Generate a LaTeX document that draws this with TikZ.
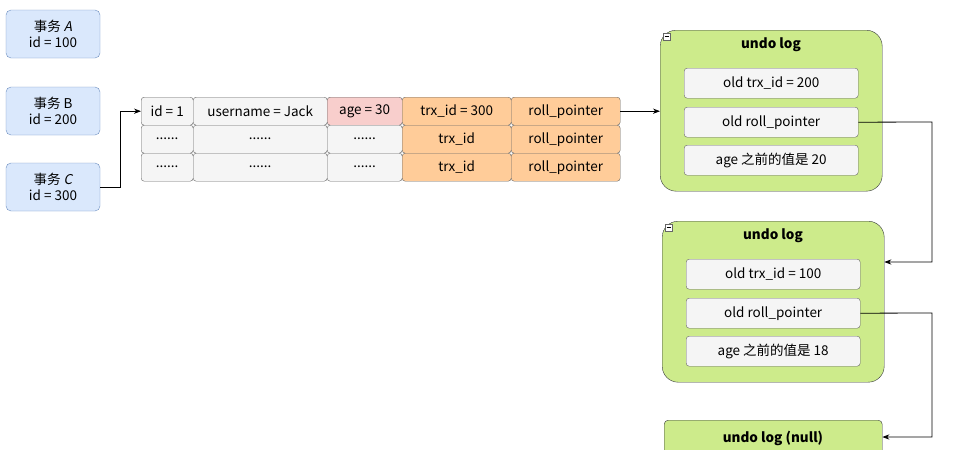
\documentclass[tikz,border=0pt]{standalone}
\usepackage{fontspec}
\setmainfont[AutoFakeSlant=0.2]{Noto Sans CJK SC}
\usetikzlibrary{arrows.meta,positioning}
\definecolor{txblue}{HTML}{DAE8FC}
\definecolor{txline}{HTML}{6C8EBF}
\definecolor{cellgray}{HTML}{F5F5F5}
\definecolor{cellline}{HTML}{666666}
\definecolor{agepink}{HTML}{F8CECC}
\definecolor{trxorange}{HTML}{FFCC99}
\definecolor{undogreen}{HTML}{CDEB8B}
\definecolor{undoline}{HTML}{36393D}

\begin{document}
\begin{tikzpicture}[
    x=1pt, y=-1pt,
    every node/.style={font=\fontsize{13.5}{16}\selectfont},
    trx/.style={
        rectangle,
        draw=txline,
        fill=txblue,
        rounded corners=5pt,
        minimum width=94pt,
        minimum height=48pt,
        align=center,
        inner sep=0pt
    },
    cell/.style={
        rectangle,
        draw=cellline,
        fill=cellgray,
        rounded corners=3pt,
        minimum height=28pt,
        inner sep=0pt,
        anchor=north west
    },
    undo/.style={
        rectangle,
        draw=undoline,
        fill=undogreen,
        rounded corners=16pt,
        minimum width=222pt,
        minimum height=161pt,
        anchor=north west,
        inner sep=0pt
    },
    item/.style={
        rectangle,
        draw=cellline,
        fill=cellgray,
        rounded corners=3pt,
        minimum width=174pt,
        minimum height=30pt,
        inner sep=0pt,
        anchor=north west
    },
    title/.style={font=\bfseries\fontsize{13.5}{16}\selectfont},
    link/.style={-{Stealth[length=7pt]}, thick, black}
]
\useasboundingbox (0,0) rectangle (967,450);

% Transactions
\node[trx] (txa) at (53,34) {事务 \textit{A}\\id = 100};
\node[trx] (txb) at (53,111) {事务 B\\id = 200};
\node[trx] (txc) at (53,187) {事务 \textit{C}\\id = 300};

% Row table
\node[cell, minimum width=52pt] (id1) at (141,97) {id = 1};
\node[cell, minimum width=134pt] (user1) at (193,97) {username = Jack};
\node[cell, minimum width=75pt, fill=agepink] (age1) at (327,97) {age = 30};
\node[cell, minimum width=109pt, fill=trxorange] (trx1) at (402,97) {trx\_id = 300};
\node[cell, minimum width=109pt, fill=trxorange] (roll1) at (511,97) {roll\_pointer};
\foreach \r/\y in {2/125,3/153} {
    \node[cell, minimum width=52pt] (id\r) at (141,\y) {......};
    \node[cell, minimum width=134pt] (user\r) at (193,\y) {......};
    \node[cell, minimum width=75pt] (age\r) at (327,\y) {......};
    \node[cell, minimum width=109pt, fill=trxorange] (trx\r) at (402,\y) {trx\_id};
    \node[cell, minimum width=109pt, fill=trxorange] (roll\r) at (511,\y) {roll\_pointer};
}

% Undo logs
\node[undo] (undo1) at (660,30) {};
\node[title] (undo1t) at (771,45) {undo log};
\node[item] (u1a) at (684,68) {old trx\_id = 200};
\node[item] (u1b) at (684,107) {old roll\_pointer};
\node[item] (u1c) at (684,145) {age 之前的值是 20};

\node[undo] (undo2) at (662,221) {};
\node[title] (undo2t) at (773,236) {undo log};
\node[item] (u2a) at (686,259) {old trx\_id = 100};
\node[item] (u2b) at (686,298) {old roll\_pointer};
\node[item] (u2c) at (686,336) {age 之前的值是 18};

\node[undo, minimum width=218pt, minimum height=40pt, rounded corners=4pt] (undo3) at (664,420) {};
\node[title] (undo3t) at (773,438) {undo log (null)};

% Collapse icons
\foreach \u/\x/\y in {undo1/663/33,undo2/665/224} {
    \draw[draw=cellline, fill=white, line width=0.4pt] (\x,\y) rectangle ++(7,7);
    \draw[line width=0.4pt] (\x+1.5,\y+3.5) -- ++(4,0);
}

% Connectors
\draw[link] (txc.east) -- ++(20,0) |- (id1.west);
\draw[link] (roll1.east) -- (roll1.east -| undo1.west);
\draw[link] (u1b.east) -- (932,122) |- (undo2.east |- 0,262);
\draw[link] (u2b.east) -- (932,313) |- (undo3.east |- 0,437);
\end{tikzpicture}
\end{document}
